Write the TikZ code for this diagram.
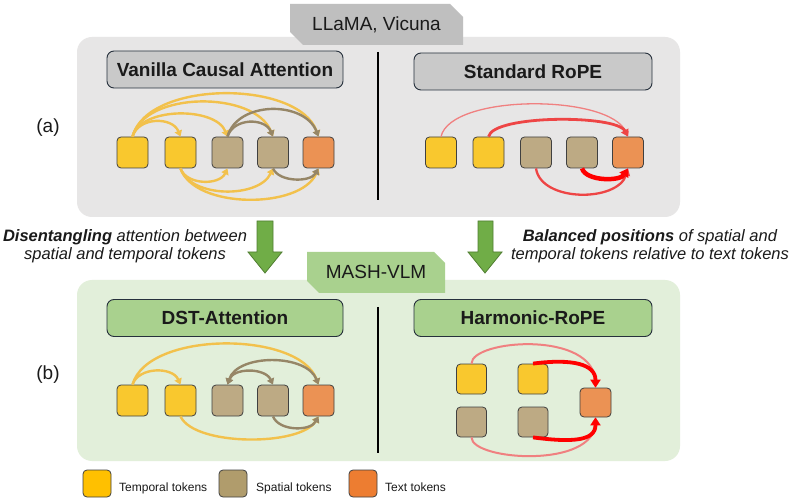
\documentclass[tikz,border=0pt]{standalone}
\usepackage{fontspec}
\setmainfont{Liberation Sans}
\usetikzlibrary{arrows.meta}
\definecolor{panA}{HTML}{E7E6E6}
\definecolor{tagA}{HTML}{BFBFBF}
\definecolor{boxA}{HTML}{C9C9C9}
\definecolor{panB}{HTML}{E2EFDA}
\definecolor{tagB}{HTML}{A9D18E}
\definecolor{boxline}{HTML}{26303C}
\definecolor{tokY}{HTML}{F9C82E}
\definecolor{tokB}{HTML}{BDAA84}
\definecolor{tokO}{HTML}{EB9254}
\definecolor{tokline}{HTML}{404040}
\definecolor{legY}{HTML}{FFC000}
\definecolor{legB}{HTML}{B09C6C}
\definecolor{legO}{HTML}{ED7D31}
\definecolor{arrY}{HTML}{F2C14C}
\definecolor{arrB}{HTML}{968667}
\definecolor{redL}{HTML}{F08080}
\definecolor{redM}{HTML}{EE4545}
\definecolor{redS}{HTML}{FF0000}
\definecolor{grn}{HTML}{70AD47}
\definecolor{grnD}{HTML}{507E32}
\definecolor{txt}{HTML}{1A1A1A}
\tikzset{
  tok/.style={draw=tokline, line width=0.8pt, rounded corners=4pt, minimum width=31pt, minimum height=31pt, inner sep=0pt},
  tokyel/.style={tok, fill=tokY},
  tokbrn/.style={tok, fill=tokB},
  tokorg/.style={tok, fill=tokO},
  legsq/.style={draw=tokline, line width=0.8pt, rounded corners=4pt, minimum width=28pt, minimum height=27pt, inner sep=0pt},
  legtxt/.style={anchor=base west, inner sep=0pt, font=\fontsize{12}{14}\selectfont, text=txt},
  titlebox/.style={draw=boxline, line width=0.9pt, rounded corners=7pt, minimum width=236pt, minimum height=37pt, inner sep=0pt, font=\fontsize{19}{22}\selectfont\bfseries, text=txt},
  yarr/.style={draw=arrY, line width=2.4pt, -{Triangle[length=6pt,width=7.5pt]}},
  barr/.style={draw=arrB, line width=2.4pt, -{Triangle[length=6pt,width=7.5pt]}},
  bbarr/.style={draw=arrB, line width=2.4pt, {Triangle[length=6pt,width=7.5pt]}-{Triangle[length=6pt,width=7.5pt]}},
  rthin/.style={draw=redL, line width=1.3pt, -{Triangle[length=5pt,width=6pt]}},
  rmed/.style={draw=redM, line width=2.8pt, -{Triangle[length=7pt,width=8pt]}},
  rthick/.style={draw=redS, line width=4.5pt, -{Triangle[length=8pt,width=10pt]}},
  lbl/.style={font=\fontsize{19}{22}\selectfont, text=txt, inner sep=0pt},
  note/.style={font=\fontsize{16.5}{18}\selectfont\itshape, text=txt, align=center, inner sep=0pt},
  divider/.style={draw=black, line width=1.2pt},
  greenarrow/.style={fill=grn, draw=grnD, line width=0.8pt},
}
\begin{document}
\begin{tikzpicture}[x=1pt,y=-1pt]
\useasboundingbox (0,0) rectangle (792,502);
\fill[white] (0,0) rectangle (792,502);

% ---------------- panel (a)
\fill[panA, rounded corners=15pt] (77,37) rectangle (680,217);
\fill[tagA] (290,4) -- (450,4) -- (463,17) -- (463,45) -- (303,45) -- (290,32) -- cycle;
\node[lbl] (tagllama) at (376.5,25) {LLaMA, Vicuna};
\draw[divider] (378,52) -- (378,200);
\node[titlebox, fill=boxA] (vca) at (225,69.5) {Vanilla Causal Attention};
\node[titlebox, fill=boxA, minimum width=238pt] (srope) at (533,71.5) {Standard RoPE};
\node[lbl] (la) at (48,128) {(a)};

\node[tokyel] (a1) at (132.5,152.5) {};
\node[tokyel] (a2) at (180.5,152.5) {};
\node[tokbrn] (a3) at (227.5,152.5) {};
\node[tokbrn] (a4) at (273,152.5) {};
\node[tokorg] (a5) at (318.5,152.5) {};

\draw[yarr] (a1.north) .. controls +(6,-20) and +(-8,-20) .. (a2.north);
\draw[yarr] (a1.north) .. controls +(8,-30) and +(-12,-30) .. (a3.north);
\draw[yarr] (a1.north) .. controls +(12,-46) and +(-18,-46) .. (a4.north);
\draw[yarr] (a1.north) .. controls +(15,-57) and +(-20,-57) .. (a5.north);
\draw[barr] (a3.north) .. controls +(6,-19) and +(-8,-19) .. (a4.north);
\draw[barr] (a3.north) .. controls +(10,-36) and +(-14,-36) .. (a5.north);
\draw[yarr] (a2.south) .. controls +(6,17) and +(-8,17) .. (a3.south);
\draw[yarr] (a2.south) .. controls +(10,30) and +(-14,30) .. (a4.south);
\draw[yarr] (a2.south) .. controls +(14,41) and +(-18,41) .. (a5.south);
\draw[barr] (a4.south) .. controls +(6,14) and +(-8,14) .. (a5.south);

\node[tokyel] (r1) at (441,152.5) {};
\node[tokyel] (r2) at (488.5,152.5) {};
\node[tokbrn] (r3) at (536,152.5) {};
\node[tokbrn] (r4) at (582,152.5) {};
\node[tokorg] (r5) at (628,152.5) {};

\draw[rthin] (r1.north) .. controls +(10,-43) and +(-18,-43) .. (r5.north);
\draw[rmed] (r2.north) .. controls +(5,-22) and +(-12,-22) .. (r5.north);
\draw[rmed, line width=2.3pt] (r3.south) .. controls +(5,34) and +(-10,34) .. (r5.south);
\draw[rthick] (r4.south) .. controls +(4,13) and +(-8,13) .. (r5.south);

% ---------------- transition
\draw[greenarrow] (257,221) -- (273,221) -- (273,252) -- (282,252) -- (265,273) -- (248,252) -- (257,252) -- cycle;
\draw[greenarrow] (478,221) -- (493,221) -- (493,252) -- (502,252) -- (485,273) -- (468,252) -- (478,252) -- cycle;
\node[note] (noteL) at (125,246) {\textbf{Disentangling} attention between\\spatial and temporal tokens};
\node[note] (noteR) at (650,246) {\textbf{Balanced positions} of spatial and\\temporal tokens relative to text tokens};

% ---------------- panel (b)
\fill[panB, rounded corners=15pt] (77,280) rectangle (680,461);
\fill[tagB] (307,252) -- (434,252) -- (445,263) -- (445,293) -- (319,293) -- (307,281) -- cycle;
\node[lbl] (tagmash) at (376,272) {MASH-VLM};
\draw[divider] (378,307) -- (378,453);
\node[titlebox, fill=tagB] (dst) at (225,318) {DST-Attention};
\node[titlebox, fill=tagB, minimum width=238pt] (hrope) at (533,318) {Harmonic-RoPE};
\node[lbl] (lb) at (48,375) {(b)};

\node[tokyel] (b1) at (132.5,400.5) {};
\node[tokyel] (b2) at (180.5,400.5) {};
\node[tokbrn] (b3) at (227.5,400.5) {};
\node[tokbrn] (b4) at (273,400.5) {};
\node[tokorg] (b5) at (318.5,400.5) {};

\draw[yarr] (b1.north) .. controls +(6,-18) and +(-8,-18) .. (b2.north);
\draw[yarr] (b1.north) .. controls +(15,-54) and +(-20,-54) .. (b5.north);
\draw[bbarr] (b3.north) .. controls +(10,-31) and +(-12,-31) .. (b5.north);
\draw[bbarr] (b3.north) .. controls +(6,-17) and +(-8,-17) .. (b4.north);
\draw[yarr] (b2.south) .. controls +(14,30) and +(-18,30) .. (b5.south);
\draw[barr] (b4.south) .. controls +(6,15) and +(-8,15) .. (b5.south);

\node[tokyel, minimum width=30pt, minimum height=30pt] (h1) at (471.5,379) {};
\node[tokyel, minimum width=30pt, minimum height=30pt] (h2) at (533,379) {};
\node[tokbrn, minimum width=30pt, minimum height=30pt] (h3) at (471.5,422) {};
\node[tokbrn, minimum width=30pt, minimum height=30pt] (h4) at (533,422) {};
\node[tokorg, minimum width=31pt, minimum height=29pt] (h5) at (595.5,402.5) {};

\draw[rthin, line width=2pt] (h1.north) .. controls +(0,-24) and +(0,-58) .. (h5.north);
\draw[rthick, line width=3.8pt] (h2.north) .. controls +(38,-5) and +(0,-24) .. (h5.north);
\draw[rthin, line width=2pt] (h3.south) .. controls +(0,23) and +(0,52) .. (h5.south);
\draw[rthick, line width=3.8pt] (h4.south) .. controls +(38,5) and +(0,24) .. (h5.south);

% ---------------- legend
\node[legsq, fill=legY] (ly) at (97,483.5) {};
\node[legtxt] (lyt) at (119,491) {Temporal tokens};
\node[legsq, fill=legB] (lbr) at (233,483.5) {};
\node[legtxt] (lbt) at (256,491) {Spatial tokens};
\node[legsq, fill=legO] (lo) at (363,483.5) {};
\node[legtxt] (lot) at (385,491) {Text tokens};
\end{tikzpicture}
\end{document}
